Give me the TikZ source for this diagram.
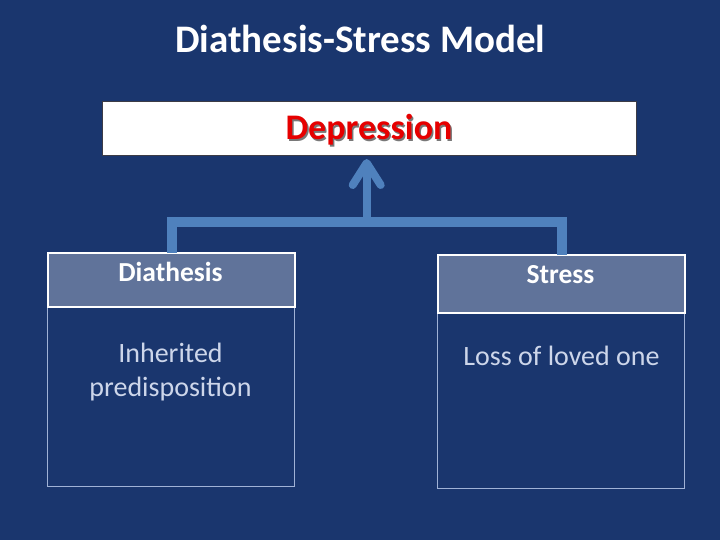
\documentclass[tikz,border=0pt]{standalone}
\usepackage{fontspec}
\setmainfont{Carlito}
\usetikzlibrary{arrows.meta}
\definecolor{bgblue}{RGB}{26,54,110}
\definecolor{headfill}{RGB}{96,115,154}
\definecolor{barblue}{RGB}{79,129,189}
\definecolor{bodytext}{RGB}{205,214,234}
\definecolor{bodyline}{RGB}{160,178,214}
\definecolor{deptext}{RGB}{230,0,0}
\tikzset{
  txt/.style={inner sep=0pt, outer sep=0pt, anchor=base},
  headbox/.style={draw=white, line width=2pt, fill=headfill, inner sep=0pt},
  bodybox/.style={draw=bodyline, line width=1pt, inner sep=0pt},
  bar/.style={draw=barblue, line width=10pt},
  headfont/.style={font=\fontsize{27.5}{32}\selectfont\bfseries},
  bodyfont/.style={font=\fontsize{28}{32}\selectfont},
}
\begin{document}
\begin{tikzpicture}[x=1pt,y=-1pt]
\fill[bgblue] (0,0) rectangle (720,540);
\useasboundingbox (0,0) rectangle (720,540);
% title
\node[txt, text=white, font=\fontsize{39}{44}\selectfont\bfseries] (title) at (360.3,52.7) {Diathesis-Stress Model};
% depression box
\node[draw={rgb,255:red,60;green,60;blue,70}, line width=1pt, fill=white, minimum width=534pt, minimum height=54pt, inner sep=0pt, outer sep=0pt] (dep) at (369,129) {};
\node[txt, text={rgb,255:red,120;green,120;blue,120}, font=\fontsize{36}{40}\selectfont\bfseries] (depshadow) at (370.5,141.5) {Depression};
\node[txt, text=deptext, font=\fontsize{36}{40}\selectfont\bfseries] (deplabel) at (369,140) {Depression};
% diathesis
\node[bodybox, minimum width=247pt, minimum height=180pt, anchor=north west] (diabody) at (47,306) {};
\node[headbox, minimum width=247pt, minimum height=54pt, anchor=north west] (diahead) at (47,252) {};
\node[txt, text=white, headfont] (dialabel) at (170.5,281.7) {Diathesis};
\node[txt, text=bodytext, bodyfont] (dia1) at (170.5,362.7) {Inherited};
\node[txt, text=bodytext, bodyfont] (dia2) at (170.5,396.7) {predisposition};
% stress
\node[bodybox, minimum width=247pt, minimum height=176pt, anchor=north west] (strbody) at (437,312) {};
\node[headbox, minimum width=247pt, minimum height=58pt, anchor=north west] (strhead) at (437,254) {};
\node[txt, text=white, headfont] (strlabel) at (560.5,283) {Stress};
\node[txt, text=bodytext, bodyfont] (str1) at (561.5,365) {Loss of loved one};
% connectors
\coordinate (join) at (366.7,222);
\draw[bar] ([yshift=-1pt]diahead.north) |- (join) -| ([yshift=-1pt]strhead.north);
\draw[bar, line width=8pt, line cap=round, -{Straight Barb[length=22pt,width=28pt,line cap=round,line join=round]}, shorten >=3pt] (join) -- (dep.south -| join);
\end{tikzpicture}
\end{document}
